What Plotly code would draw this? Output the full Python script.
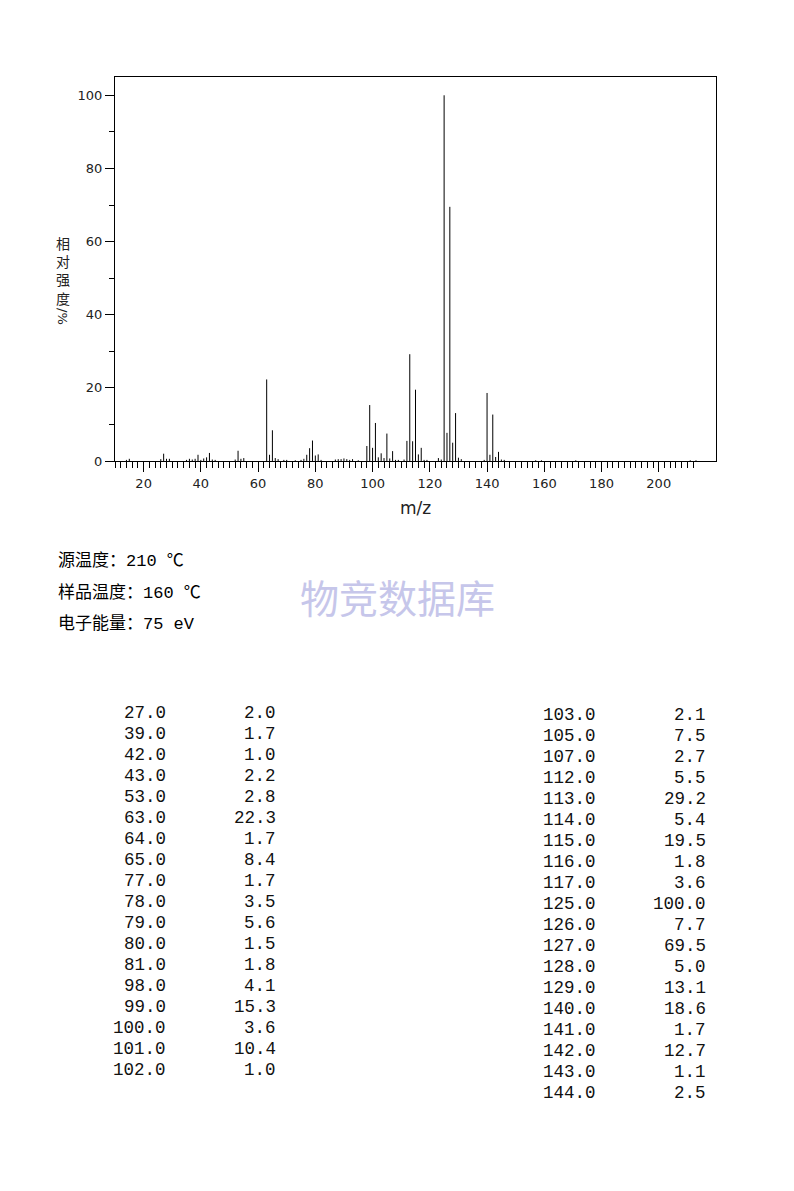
import plotly.graph_objects as go

# peaks listed in the table (relative intensity >= 1 %)
table_mz = [27, 39, 42, 43, 53, 63, 64, 65, 77, 78, 79, 80, 81, 98, 99, 100, 101, 102,
            103, 105, 107, 112, 113, 114, 115, 116, 117, 125, 126, 127, 128, 129, 140,
            141, 142, 143, 144]
table_int = [2.0, 1.7, 1.0, 2.2, 2.8, 22.3, 1.7, 8.4, 1.7, 3.5, 5.6, 1.5, 1.8, 4.1, 15.3,
             3.6, 10.4, 1.0, 2.1, 7.5, 2.7, 5.5, 29.2, 5.4, 19.5, 1.8, 3.6, 100.0, 7.7,
             69.5, 5.0, 13.1, 18.6, 1.7, 12.7, 1.1, 2.5]

# weak peaks only visible in the spectrum
minor_mz = [14, 15, 26, 28, 29, 35, 36, 37, 38, 40, 41, 44, 45, 52, 54, 55, 66, 67, 69,
            70, 73, 75, 76, 82, 87, 88, 89, 90, 91, 92, 93, 95, 104, 106, 108, 109, 111,
            118, 119, 123, 124, 130, 131, 139, 145, 146, 157, 159, 171, 211, 213]
minor_int = [0.3, 0.6, 0.5, 0.6, 0.6, 0.3, 0.6, 0.4, 0.6, 0.3, 0.7, 0.4, 0.3, 0.4, 0.6,
             0.8, 0.8, 0.5, 0.3, 0.3, 0.2, 0.3, 0.6, 0.3, 0.4, 0.5, 0.5, 0.7, 0.5, 0.3,
             0.5, 0.2, 0.8, 0.7, 0.3, 0.3, 0.4, 0.3, 0.3, 0.8, 0.4, 0.9, 0.5, 0.3, 0.4,
             0.3, 0.2, 0.2, 0.2, 0.2, 0.2]

info_lines = ["源温度：210 ℃", "样品温度：160 ℃", "电子能量：75 eV"]
watermark = "物竞数据库"
y_title = "相<br>对<br>强<br>度"

peaks = sorted(zip(table_mz + minor_mz, table_int + minor_int))

# stick spectrum: one vertical segment per peak
xs, ys = [], []
for m, v in peaks:
    xs += [m, m, None]
    ys += [0, v, None]

fig = go.Figure()
fig.add_trace(go.Scatter(x=xs, y=ys, mode="lines",
                         line=dict(color="black", width=1), hoverinfo="skip"))

# plot box in page pixels; the page body adds an 8 px margin
W, H, OFF = 794, 1191, 8
L, R, T, B = 115, 716, 77, 461


def px(x):
    return (x - L) / (R - L)


def py(y):
    return (B - y) / (B - T)


def note(x, y, text, font, xanchor="center", **kw):
    return dict(x=px(x), y=py(y), text=text, showarrow=False,
                xref="paper", yref="paper", xanchor=xanchor, yanchor="middle",
                font=font, **kw)


ann = []
# y-axis title, characters stacked
ann.append(note(63, 270, y_title,
                dict(family="Noto Sans CJK SC", size=14, color="#222")))
ann.append(note(63, 317, "/%", dict(family="DejaVu Sans", size=13, color="#222"),
                textangle=90))

# info lines
for i, line in enumerate(info_lines):
    ann.append(note(56, 561 + i * 31.5, line,
                    dict(family="Liberation Mono, Noto Sans CJK SC", size=17,
                         color="black"), xanchor="left"))

# watermark
ann.append(note(397, 596, watermark,
                dict(family="Noto Sans CJK SC", size=39, color="#c6c6ea")))

# peak table, two columns
mono = dict(family="Liberation Mono", size=17.5, color="#111")
n_left = 18
cols = [(table_mz[:n_left], table_int[:n_left], 168, 278, 713),
        (table_mz[n_left:], table_int[n_left:], 598, 708, 715)]
for mzs, ints, xm, xi, y0 in cols:
    for k, (m, v) in enumerate(zip(mzs, ints)):
        ann.append(note(xm, y0 + k * 21, f"{m:.1f}", mono, xanchor="right"))
        ann.append(note(xi, y0 + k * 21, f"{v:.1f}", mono, xanchor="right"))

fig.update_layout(
    width=W, height=H,
    margin=dict(l=L - OFF, r=W + OFF - R, t=T - OFF, b=H + OFF - B),
    plot_bgcolor="white", paper_bgcolor="white",
    showlegend=False,
    annotations=ann,
    font=dict(family="DejaVu Sans", size=13, color="#222"),
)

fig.update_xaxes(
    range=[10, 220], showgrid=False, zeroline=False,
    showline=True, linecolor="black", linewidth=1, mirror=True,
    tickmode="array", tickvals=list(range(20, 201, 20)),
    ticks="outside", ticklen=10, tickcolor="black", tickwidth=1,
    minor=dict(tickmode="array", tickvals=list(range(10, 213, 2)),
               ticks="outside", ticklen=6, tickcolor="black", tickwidth=1),
    title=dict(text="m/z", font=dict(family="DejaVu Sans", size=17, color="#222"),
               standoff=12),
    tickfont=dict(family="DejaVu Sans", size=13, color="#222"),
)
fig.update_yaxes(
    range=[0, 105], showgrid=False, zeroline=False,
    showline=True, linecolor="black", linewidth=1, mirror=True,
    tickmode="array", tickvals=list(range(0, 101, 20)),
    ticks="outside", ticklen=9, tickcolor="black", tickwidth=1,
    minor=dict(tickmode="array", tickvals=list(range(10, 100, 20)),
               ticks="outside", ticklen=5, tickcolor="black", tickwidth=1),
    tickfont=dict(family="DejaVu Sans", size=13, color="#222"),
)

fig.write_html("out.html")
